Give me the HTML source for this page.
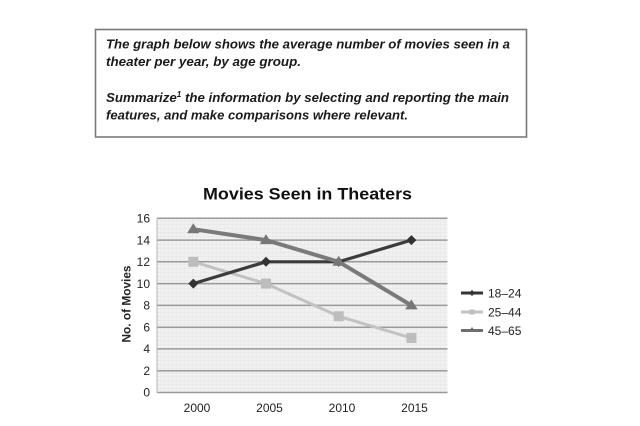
<!DOCTYPE html>
<html>
<head>
<meta charset="utf-8">
<style>
html,body{margin:0;padding:0;background:#fff;}
svg{display:block;}
text{font-family:"Liberation Sans",Arial,sans-serif;}
</style>
</head>
<body>
<svg width="640" height="426" viewBox="0 0 640 426" xmlns="http://www.w3.org/2000/svg">
  <defs>
    <pattern id="tex" width="4" height="4" patternUnits="userSpaceOnUse">
      <rect width="4" height="4" fill="#f1f1f1"/>
      <rect width="4" height="1" fill="#e9e9e9"/>
      <rect width="1" height="4" fill="#ebebeb"/>
    </pattern>
  </defs>
  <rect width="640" height="426" fill="#fff"/>

  <!-- prompt box -->
  <rect x="95.5" y="29.5" width="431" height="107.5" fill="#fff" stroke="#7a7a7a" stroke-width="1.6"/>
  <g font-style="italic" font-weight="bold" font-size="13" fill="#1a1a1a">
    <text x="106" y="48.5" textLength="404" lengthAdjust="spacingAndGlyphs">The graph below shows the average number of movies seen in a</text>
    <text x="106" y="66" textLength="195" lengthAdjust="spacingAndGlyphs">theater per year, by age group.</text>
    <text x="106" y="102" textLength="403" lengthAdjust="spacingAndGlyphs">Summarize<tspan font-size="8" dy="-5">1</tspan><tspan dy="5"> the information by selecting and reporting the main</tspan></text>
    <text x="106" y="119.5" textLength="302" lengthAdjust="spacingAndGlyphs">features, and make comparisons where relevant.</text>
  </g>

  <!-- title -->
  <text x="203" y="199.5" font-size="17" font-weight="bold" fill="#111" textLength="209" lengthAdjust="spacingAndGlyphs">Movies Seen in Theaters</text>

  <!-- plot area -->
  <rect x="157" y="218.3" width="290.5" height="174.2" fill="url(#tex)"/>
  <g stroke="#9a9a9a" stroke-width="1.5">
    <line x1="157" y1="218.3" x2="447.5" y2="218.3"/>
    <line x1="157" y1="240.1" x2="447.5" y2="240.1"/>
    <line x1="157" y1="261.8" x2="447.5" y2="261.8"/>
    <line x1="157" y1="283.6" x2="447.5" y2="283.6"/>
    <line x1="157" y1="305.4" x2="447.5" y2="305.4"/>
    <line x1="157" y1="327.2" x2="447.5" y2="327.2"/>
    <line x1="157" y1="348.9" x2="447.5" y2="348.9"/>
    <line x1="157" y1="370.7" x2="447.5" y2="370.7"/>
    <line x1="157" y1="392.5" x2="447.5" y2="392.5"/>
  </g>
  <line x1="157" y1="218" x2="157" y2="393" stroke="#b5b5b5" stroke-width="1"/>

  <!-- y ticks -->
  <g font-size="12" fill="#222" text-anchor="end">
    <text x="150" y="222.5">16</text>
    <text x="150" y="244.3">14</text>
    <text x="150" y="266">12</text>
    <text x="150" y="287.8">10</text>
    <text x="150" y="309.6">8</text>
    <text x="150" y="331.4">6</text>
    <text x="150" y="353.1">4</text>
    <text x="150" y="374.9">2</text>
    <text x="150" y="396.7">0</text>
  </g>
  <text transform="translate(130.5,304) rotate(-90)" text-anchor="middle" font-size="12" font-weight="bold" fill="#222" textLength="77" lengthAdjust="spacingAndGlyphs">No. of Movies</text>

  <!-- x labels -->
  <g font-size="12" fill="#222" text-anchor="middle">
    <text x="197" y="412">2000</text>
    <text x="269.5" y="412">2005</text>
    <text x="342" y="412">2010</text>
    <text x="414.5" y="412">2015</text>
  </g>

  <!-- series 25-44 (light) -->
  <polyline points="193.3,261.8 266,283.6 338.7,316.3 411.4,338" fill="none" stroke="#c2c2c2" stroke-width="3"/>
  <g fill="#bdbdbd">
    <rect x="188.3" y="256.8" width="10" height="10"/>
    <rect x="261" y="278.6" width="10" height="10"/>
    <rect x="333.7" y="311.3" width="10" height="10"/>
    <rect x="406.4" y="333" width="10" height="10"/>
  </g>

  <!-- series 18-24 (dark) -->
  <polyline points="193.3,283.6 266,261.8 338.7,261.8 411.4,240.1" fill="none" stroke="#3c3c3c" stroke-width="3.2"/>
  <g fill="#333">
    <polygon points="193.3,278.6 198.3,283.6 193.3,288.6 188.3,283.6"/>
    <polygon points="266,256.8 271,261.8 266,266.8 261,261.8"/>
    <polygon points="338.7,256.8 343.7,261.8 338.7,266.8 333.7,261.8"/>
    <polygon points="411.4,235.1 416.4,240.1 411.4,245.1 406.4,240.1"/>
  </g>

  <!-- series 45-65 (medium) -->
  <polyline points="193.3,229.2 266,240.1 338.7,261.8 411.4,305.4" fill="none" stroke="#7a7a7a" stroke-width="4"/>
  <g fill="#777">
    <polygon points="193.3,223.2 199.5,233.2 187.1,233.2"/>
    <polygon points="266,234.1 272.2,244.1 259.8,244.1"/>
    <polygon points="338.7,255.8 344.9,265.8 332.5,265.8"/>
    <polygon points="411.4,299.4 417.6,309.4 405.2,309.4"/>
  </g>

  <!-- legend -->
  <g>
    <line x1="461" y1="293" x2="483" y2="293" stroke="#333" stroke-width="3"/>
    <polygon points="472,290 475,293 472,296 469,293" fill="#333"/>
    <line x1="461" y1="312" x2="483" y2="312" stroke="#c2c2c2" stroke-width="3"/>
    <rect x="469.5" y="309.5" width="5" height="5" fill="#bdbdbd"/>
    <line x1="461" y1="330.5" x2="483" y2="330.5" stroke="#6e6e6e" stroke-width="3"/>
    <polygon points="472,327 475.5,332 468.5,332" fill="#6e6e6e"/>
  </g>
  <g font-size="12" fill="#222">
    <text x="488" y="297.5">18–24</text>
    <text x="488" y="316.5">25–44</text>
    <text x="488" y="335">45–65</text>
  </g>
</svg>
</body>
</html>
